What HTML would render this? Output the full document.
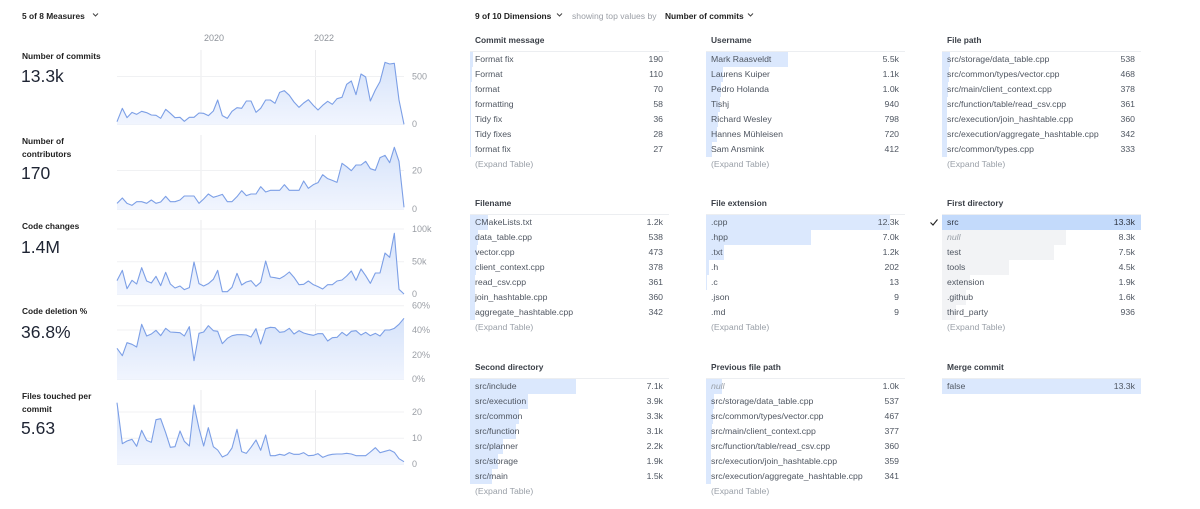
<!DOCTYPE html>
<html><head><meta charset="utf-8">
<style>
*{margin:0;padding:0;box-sizing:border-box}
html,body{width:1200px;height:509px;background:#fff;overflow:hidden;font-family:"Liberation Sans",Arial,sans-serif}
.abs{position:absolute;white-space:nowrap}
.hdr{font-weight:bold;font-size:8.4px;color:#222;line-height:12px}
.mlab{font-weight:bold;font-size:8.4px;color:#222;line-height:12.5px}
.mval{font-size:17.5px;color:#1e2433;line-height:20px}
.tbl{position:absolute;width:199px}
.tbl .ttl{position:absolute;left:5px;top:-17px;font-weight:bold;font-size:8.4px;color:#3a3f47;line-height:12px;white-space:nowrap}
.tbl .dv{position:absolute;left:0;top:0;width:199px;height:1px;background:#eceef1}
.tbl .rows{position:absolute;left:0;top:1px;width:199px}
.row{position:relative;height:15px;line-height:15px;font-size:8.7px;color:#4f5661;white-space:nowrap}
.row .bar{position:absolute;left:0;top:0;bottom:0;background:#dbe8fd}
.row .l{position:absolute;left:5px;top:0}
.row .r{position:absolute;right:6px;top:0}
.row.exp{color:#9aa0a8}
.nl{font-style:italic;color:#9aa0a8}
</style></head><body>

<!-- Left header -->
<div class="abs hdr" style="left:22px;top:9.5px">5 of 8 Measures</div>
<svg class="abs" style="left:92px;top:12px" width="8" height="6"><polyline points="1,1.5 3.5,4 6,1.5" fill="none" stroke="#444" stroke-width="1"/></svg>

<!-- Measure labels -->
<div class="abs mlab" style="left:22px;top:50px">Number of commits</div>
<div class="abs mval" style="left:21px;top:66px">13.3k</div>
<div class="abs mlab" style="left:22px;top:135px">Number of<br>contributors</div>
<div class="abs mval" style="left:21px;top:162.5px">170</div>
<div class="abs mlab" style="left:22px;top:220px">Code changes</div>
<div class="abs mval" style="left:21px;top:236.5px">1.4M</div>
<div class="abs mlab" style="left:22px;top:305px">Code deletion %</div>
<div class="abs mval" style="left:21px;top:322px">36.8%</div>
<div class="abs mlab" style="left:22px;top:390px">Files touched per<br>commit</div>
<div class="abs mval" style="left:21px;top:418px">5.63</div>

<!-- Charts -->
<svg class="abs" style="left:0;top:0" width="440" height="509" viewBox="0 0 440 509">
<defs>
<linearGradient id="g" x1="0" y1="0" x2="0" y2="1">
<stop offset="0" stop-color="#d6e3fa"/>
<stop offset="1" stop-color="#f1f5fe"/>
</linearGradient>
</defs>
<g font-family="Liberation Sans, Arial, sans-serif" font-size="9" fill="#8e939a">
<text x="204" y="41">2020</text>
<text x="314" y="41">2022</text>
</g>
<!-- vertical gridlines -->
<g stroke="#ebebed" stroke-width="1">
<line x1="201" y1="50" x2="201" y2="124"/><line x1="315.5" y1="50" x2="315.5" y2="124"/>
<line x1="201" y1="135" x2="201" y2="209"/><line x1="315.5" y1="135" x2="315.5" y2="209"/>
<line x1="201" y1="220" x2="201" y2="294"/><line x1="315.5" y1="220" x2="315.5" y2="294"/>
<line x1="201" y1="304" x2="201" y2="379"/><line x1="315.5" y1="304" x2="315.5" y2="379"/>
<line x1="201" y1="390" x2="201" y2="464"/><line x1="315.5" y1="390" x2="315.5" y2="464"/>
</g>
<!-- horizontal gridlines -->
<g stroke="#f0f1f3" stroke-width="1">
<line x1="117" y1="76.5" x2="404" y2="76.5"/>
<line x1="117" y1="170.5" x2="404" y2="170.5"/>
<line x1="117" y1="229" x2="404" y2="229"/>
<line x1="117" y1="261.7" x2="404" y2="261.7"/>
<line x1="117" y1="305.7" x2="404" y2="305.7"/>
<line x1="117" y1="330" x2="404" y2="330"/>
<line x1="117" y1="355" x2="404" y2="355"/>
<line x1="117" y1="412" x2="404" y2="412"/>
<line x1="117" y1="438.3" x2="404" y2="438.3"/>
</g>
<g stroke="#dfe6f4" stroke-width="1">
<line x1="117" y1="124.3" x2="404" y2="124.3"/>
<line x1="117" y1="209.3" x2="404" y2="209.3"/>
<line x1="117" y1="294.3" x2="404" y2="294.3"/>
<line x1="117" y1="379.3" x2="404" y2="379.3"/>
<line x1="117" y1="464.3" x2="404" y2="464.3"/>
</g>

<!-- Series 1 & 2 (zoom1 coords) -->
<g transform="scale(0.333333)">
<polygon fill="url(#g)" points="351,365 367,325 381,353 396,337 410,343 425,334 440,338 454,345 468,346 482,355 497,328 511,340 525,353 540,352 553,364 568,352 582,352 597,339 611,340 625,347 640,333 653,300 667,347 682,355 696,334 711,323 725,325 739,303 753,303 768,337 782,325 797,300 811,300 825,310 839,277 853,272 868,286 882,306 897,322 911,309 925,299 940,316 954,330 968,316 983,304 997,313 1011,296 1026,292 1040,253 1054,243 1068,284 1083,222 1097,231 1111,303 1126,270 1140,245 1155,187 1169,192 1183,190 1197,300 1212,373 1212,373 351,373"/>
<polyline fill="none" stroke="#7c9fe6" stroke-width="1.1" vector-effect="non-scaling-stroke" stroke-linejoin="round" points="351,365 367,325 381,353 396,337 410,343 425,334 440,338 454,345 468,346 482,355 497,328 511,340 525,353 540,352 553,364 568,352 582,352 597,339 611,340 625,347 640,333 653,300 667,347 682,355 696,334 711,323 725,325 739,303 753,303 768,337 782,325 797,300 811,300 825,310 839,277 853,272 868,286 882,306 897,322 911,309 925,299 940,316 954,330 968,316 983,304 997,313 1011,296 1026,292 1040,253 1054,243 1068,284 1083,222 1097,231 1111,303 1126,270 1140,245 1155,187 1169,192 1183,190 1197,300 1212,373"/>
<polygon fill="url(#g)" points="351,610 367,594 381,610 396,616 410,605 425,605 440,610 454,600 468,610 482,606 497,589 511,605 525,605 540,600 553,588 568,588 582,588 597,610 611,597 625,582 640,592 653,588 667,583 682,605 696,605 711,590 725,572 739,587 753,582 768,582 782,560 797,576 811,571 825,571 839,571 853,554 868,571 882,571 897,571 911,543 925,565 940,554 954,548 968,524 983,536 997,541 1011,547 1026,490 1040,500 1054,512 1068,495 1083,495 1097,484 1111,506 1126,511 1140,473 1155,466 1169,488 1183,442 1197,484 1212,622 1212,628 351,628"/>
<polyline fill="none" stroke="#7c9fe6" stroke-width="1.1" vector-effect="non-scaling-stroke" stroke-linejoin="round" points="351,610 367,594 381,610 396,616 410,605 425,605 440,610 454,600 468,610 482,606 497,589 511,605 525,605 540,600 553,588 568,588 582,588 597,610 611,597 625,582 640,592 653,588 667,583 682,605 696,605 711,590 725,572 739,587 753,582 768,582 782,560 797,576 811,571 825,571 839,571 853,554 868,571 882,571 897,571 911,543 925,565 940,554 954,548 968,524 983,536 997,541 1011,547 1026,490 1040,500 1054,512 1068,495 1083,495 1097,484 1111,506 1126,511 1140,473 1155,466 1169,488 1183,442 1197,484 1212,622"/>
</g>

<!-- Series 3 & 4 (zoom2 coords) -->
<g transform="translate(0,210) scale(0.333333)">
<polygon fill="url(#g)" points="351,212 367,181 381,236 396,211 410,222 425,173 440,213 454,219 468,199 482,227 497,187 511,222 525,234 540,228 553,239 568,233 582,156 597,221 611,228 625,221 640,208 653,181 667,245 682,245 696,232 711,190 725,225 739,216 753,212 768,229 782,217 797,153 811,201 825,203 839,206 853,198 868,186 882,202 897,224 911,223 925,213 940,224 954,230 968,237 983,224 997,224 1011,213 1026,210 1040,198 1054,183 1068,211 1083,177 1097,197 1111,220 1126,189 1140,189 1155,129 1169,142 1183,70 1197,238 1212,252 1212,253 351,253"/>
<polyline fill="none" stroke="#7c9fe6" stroke-width="1.1" vector-effect="non-scaling-stroke" stroke-linejoin="round" points="351,212 367,181 381,236 396,211 410,222 425,173 440,213 454,219 468,199 482,227 497,187 511,222 525,234 540,228 553,239 568,233 582,156 597,221 611,228 625,221 640,208 653,181 667,245 682,245 696,232 711,190 725,225 739,216 753,212 768,229 782,217 797,153 811,201 825,203 839,206 853,198 868,186 882,202 897,224 911,223 925,213 940,224 954,230 968,237 983,224 997,224 1011,213 1026,210 1040,198 1054,183 1068,211 1083,177 1097,197 1111,220 1126,189 1140,189 1155,129 1169,142 1183,70 1197,238 1212,252"/>
<polygon fill="url(#g)" points="351,415 367,437 381,398 396,403 410,411 425,343 440,378 454,372 468,361 482,377 497,355 511,366 525,367 540,368 553,378 568,350 582,452 597,370 611,366 625,347 640,362 653,364 667,401 682,385 696,377 711,374 725,374 739,375 753,381 768,356 782,402 797,356 811,352 825,353 839,367 853,365 868,355 882,372 897,362 911,369 925,373 940,376 954,371 968,371 983,393 997,383 1011,382 1026,367 1040,377 1054,364 1068,362 1083,375 1097,367 1111,377 1126,370 1140,378 1155,360 1169,360 1183,355 1197,343 1212,325 1212,508 351,508"/>
<polyline fill="none" stroke="#7c9fe6" stroke-width="1.1" vector-effect="non-scaling-stroke" stroke-linejoin="round" points="351,415 367,437 381,398 396,403 410,411 425,343 440,378 454,372 468,361 482,377 497,355 511,366 525,367 540,368 553,378 568,350 582,452 597,370 611,366 625,347 640,362 653,364 667,401 682,385 696,377 711,374 725,374 739,375 753,381 768,356 782,402 797,356 811,352 825,353 839,367 853,365 868,355 882,372 897,362 911,369 925,373 940,376 954,371 968,371 983,393 997,383 1011,382 1026,367 1040,377 1054,364 1068,362 1083,375 1097,367 1111,377 1126,370 1140,378 1155,360 1169,360 1183,355 1197,343 1212,325"/>
</g>

<!-- Series 5 (zoom3 coords) -->
<g transform="translate(0,370) scale(0.333333)">
<polygon fill="url(#g)" points="351,98 367,221 381,213 396,208 410,229 425,181 440,211 454,217 468,149 482,146 497,188 511,232 525,230 540,183 553,214 568,228 582,105 597,175 611,228 625,173 640,230 653,240 667,261 682,254 696,234 711,178 725,245 739,250 753,232 768,210 782,241 797,195 811,257 825,257 839,253 853,256 868,248 882,253 897,253 911,248 925,257 940,256 954,251 968,262 983,256 997,253 1011,252 1026,252 1040,250 1054,252 1068,257 1083,257 1097,257 1111,246 1126,233 1140,248 1155,244 1169,240 1183,247 1197,266 1212,275 1212,283 351,283"/>
<polyline fill="none" stroke="#7c9fe6" stroke-width="1.1" vector-effect="non-scaling-stroke" stroke-linejoin="round" points="351,98 367,221 381,213 396,208 410,229 425,181 440,211 454,217 468,149 482,146 497,188 511,232 525,230 540,183 553,214 568,228 582,105 597,175 611,228 625,173 640,230 653,240 667,261 682,254 696,234 711,178 725,245 739,250 753,232 768,210 782,241 797,195 811,257 825,257 839,253 853,256 868,248 882,253 897,253 911,248 925,257 940,256 954,251 968,262 983,256 997,253 1011,252 1026,252 1040,250 1054,252 1068,257 1083,257 1097,257 1111,246 1126,233 1140,248 1155,244 1169,240 1183,247 1197,266 1212,275"/>
</g>

<!-- y-axis labels -->
<g font-family="Liberation Sans, Arial, sans-serif" font-size="9" fill="#9a9ea5" dominant-baseline="middle">
<text x="412" y="77">500</text>
<text x="412" y="124.5">0</text>
<text x="412" y="171">20</text>
<text x="412" y="209.5">0</text>
<text x="412" y="229.5">100k</text>
<text x="412" y="262">50k</text>
<text x="412" y="294.5">0</text>
<text x="412" y="306">60%</text>
<text x="412" y="330.5">40%</text>
<text x="412" y="355.5">20%</text>
<text x="412" y="379.5">0%</text>
<text x="412" y="412.5">20</text>
<text x="412" y="438.5">10</text>
<text x="412" y="464.5">0</text>
</g>
</svg>

<!-- Right header -->
<div class="abs hdr" style="left:475px;top:9.5px">9 of 10 Dimensions</div>
<svg class="abs" style="left:556px;top:12px" width="8" height="6"><polyline points="1,1.5 3.5,4 6,1.5" fill="none" stroke="#444" stroke-width="1"/></svg>
<div class="abs" style="left:572px;top:9.5px;font-size:8.6px;line-height:12px;color:#9a9ea5">showing top values by</div>
<div class="abs hdr" style="left:665px;top:9.5px">Number of commits</div>
<svg class="abs" style="left:747px;top:12px" width="8" height="6"><polyline points="1,1.5 3.5,4 6,1.5" fill="none" stroke="#444" stroke-width="1"/></svg>

<!-- Section 1 -->
<div class="tbl" style="left:470px;top:51px">
<div class="ttl">Commit message</div><div class="dv"></div>
<div class="rows">
<div class="row"><div class="bar" style="width:2.8px"></div><span class="l">Format fix</span><span class="r">190</span></div>
<div class="row"><div class="bar" style="width:1.7px"></div><span class="l">Format</span><span class="r">110</span></div>
<div class="row"><div class="bar" style="width:1.1px"></div><span class="l">format</span><span class="r">70</span></div>
<div class="row"><div class="bar" style="width:0.9px"></div><span class="l">formatting</span><span class="r">58</span></div>
<div class="row"><div class="bar" style="width:0.6px"></div><span class="l">Tidy fix</span><span class="r">36</span></div>
<div class="row"><div class="bar" style="width:0.5px"></div><span class="l">Tidy fixes</span><span class="r">28</span></div>
<div class="row"><div class="bar" style="width:0.5px"></div><span class="l">format fix</span><span class="r">27</span></div>
<div class="row exp"><span class="l">(Expand Table)</span></div>
</div></div>

<div class="tbl" style="left:706px;top:51px">
<div class="ttl">Username</div><div class="dv"></div>
<div class="rows">
<div class="row"><div class="bar" style="width:82px"></div><span class="l">Mark Raasveldt</span><span class="r">5.5k</span></div>
<div class="row"><div class="bar" style="width:16.5px"></div><span class="l">Laurens Kuiper</span><span class="r">1.1k</span></div>
<div class="row"><div class="bar" style="width:15px"></div><span class="l">Pedro Holanda</span><span class="r">1.0k</span></div>
<div class="row"><div class="bar" style="width:14px"></div><span class="l">Tishj</span><span class="r">940</span></div>
<div class="row"><div class="bar" style="width:12px"></div><span class="l">Richard Wesley</span><span class="r">798</span></div>
<div class="row"><div class="bar" style="width:10.8px"></div><span class="l">Hannes Mühleisen</span><span class="r">720</span></div>
<div class="row"><div class="bar" style="width:6.2px"></div><span class="l">Sam Ansmink</span><span class="r">412</span></div>
<div class="row exp"><span class="l">(Expand Table)</span></div>
</div></div>

<div class="tbl" style="left:942px;top:51px">
<div class="ttl">File path</div><div class="dv"></div>
<div class="rows">
<div class="row"><div class="bar" style="width:8px"></div><span class="l">src/storage/data_table.cpp</span><span class="r">538</span></div>
<div class="row"><div class="bar" style="width:7px"></div><span class="l">src/common/types/vector.cpp</span><span class="r">468</span></div>
<div class="row"><div class="bar" style="width:5.7px"></div><span class="l">src/main/client_context.cpp</span><span class="r">378</span></div>
<div class="row"><div class="bar" style="width:5.4px"></div><span class="l">src/function/table/read_csv.cpp</span><span class="r">361</span></div>
<div class="row"><div class="bar" style="width:5.4px"></div><span class="l">src/execution/join_hashtable.cpp</span><span class="r">360</span></div>
<div class="row"><div class="bar" style="width:5.1px"></div><span class="l">src/execution/aggregate_hashtable.cpp</span><span class="r">342</span></div>
<div class="row"><div class="bar" style="width:5px"></div><span class="l">src/common/types.cpp</span><span class="r">333</span></div>
<div class="row exp"><span class="l">(Expand Table)</span></div>
</div></div>

<!-- Section 2 -->
<div class="tbl" style="left:470px;top:214px">
<div class="ttl">Filename</div><div class="dv"></div>
<div class="rows">
<div class="row"><div class="bar" style="width:17.5px"></div><span class="l">CMakeLists.txt</span><span class="r">1.2k</span></div>
<div class="row"><div class="bar" style="width:8px"></div><span class="l">data_table.cpp</span><span class="r">538</span></div>
<div class="row"><div class="bar" style="width:7px"></div><span class="l">vector.cpp</span><span class="r">473</span></div>
<div class="row"><div class="bar" style="width:5.7px"></div><span class="l">client_context.cpp</span><span class="r">378</span></div>
<div class="row"><div class="bar" style="width:5.4px"></div><span class="l">read_csv.cpp</span><span class="r">361</span></div>
<div class="row"><div class="bar" style="width:5.4px"></div><span class="l">join_hashtable.cpp</span><span class="r">360</span></div>
<div class="row"><div class="bar" style="width:5.1px"></div><span class="l">aggregate_hashtable.cpp</span><span class="r">342</span></div>
<div class="row exp"><span class="l">(Expand Table)</span></div>
</div></div>

<div class="tbl" style="left:706px;top:214px">
<div class="ttl">File extension</div><div class="dv"></div>
<div class="rows">
<div class="row"><div class="bar" style="width:183.5px"></div><span class="l">.cpp</span><span class="r">12.3k</span></div>
<div class="row"><div class="bar" style="width:105px"></div><span class="l">.hpp</span><span class="r">7.0k</span></div>
<div class="row"><div class="bar" style="width:18px"></div><span class="l">.txt</span><span class="r">1.2k</span></div>
<div class="row"><div class="bar" style="width:3px"></div><span class="l">.h</span><span class="r">202</span></div>
<div class="row"><div class="bar" style="width:0.3px"></div><span class="l">.c</span><span class="r">13</span></div>
<div class="row"><span class="l">.json</span><span class="r">9</span></div>
<div class="row"><span class="l">.md</span><span class="r">9</span></div>
<div class="row exp"><span class="l">(Expand Table)</span></div>
</div></div>

<svg class="abs" style="left:929px;top:218px" width="10" height="9"><polyline points="1.5,4.5 4,7 8.5,1.5" fill="none" stroke="#222" stroke-width="1.1"/></svg>
<div class="tbl" style="left:942px;top:214px">
<div class="ttl">First directory</div><div class="dv"></div>
<div class="rows">
<div class="row" style="color:#2d3340"><div class="bar" style="width:199px;background:#c3dafb"></div><span class="l">src</span><span class="r">13.3k</span></div>
<div class="row"><div class="bar" style="width:124px;background:#f2f3f5"></div><span class="l nl">null</span><span class="r">8.3k</span></div>
<div class="row"><div class="bar" style="width:112px;background:#f2f3f5"></div><span class="l">test</span><span class="r">7.5k</span></div>
<div class="row"><div class="bar" style="width:67px;background:#f2f3f5"></div><span class="l">tools</span><span class="r">4.5k</span></div>
<div class="row"><div class="bar" style="width:28.4px;background:#f2f3f5"></div><span class="l">extension</span><span class="r">1.9k</span></div>
<div class="row"><div class="bar" style="width:24px;background:#f2f3f5"></div><span class="l">.github</span><span class="r">1.6k</span></div>
<div class="row"><div class="bar" style="width:14px;background:#f2f3f5"></div><span class="l">third_party</span><span class="r">936</span></div>
<div class="row exp"><span class="l">(Expand Table)</span></div>
</div></div>

<!-- Section 3 -->
<div class="tbl" style="left:470px;top:377.5px">
<div class="ttl">Second directory</div><div class="dv"></div>
<div class="rows">
<div class="row"><div class="bar" style="width:106px"></div><span class="l">src/include</span><span class="r">7.1k</span></div>
<div class="row"><div class="bar" style="width:58.4px"></div><span class="l">src/execution</span><span class="r">3.9k</span></div>
<div class="row"><div class="bar" style="width:49.4px"></div><span class="l">src/common</span><span class="r">3.3k</span></div>
<div class="row"><div class="bar" style="width:46.4px"></div><span class="l">src/function</span><span class="r">3.1k</span></div>
<div class="row"><div class="bar" style="width:33px"></div><span class="l">src/planner</span><span class="r">2.2k</span></div>
<div class="row"><div class="bar" style="width:28.4px"></div><span class="l">src/storage</span><span class="r">1.9k</span></div>
<div class="row"><div class="bar" style="width:22.4px"></div><span class="l">src/main</span><span class="r">1.5k</span></div>
<div class="row exp"><span class="l">(Expand Table)</span></div>
</div></div>

<div class="tbl" style="left:706px;top:377.5px">
<div class="ttl">Previous file path</div><div class="dv"></div>
<div class="rows">
<div class="row"><div class="bar" style="width:15.5px"></div><span class="l nl">null</span><span class="r">1.0k</span></div>
<div class="row"><div class="bar" style="width:8px"></div><span class="l">src/storage/data_table.cpp</span><span class="r">537</span></div>
<div class="row"><div class="bar" style="width:7px"></div><span class="l">src/common/types/vector.cpp</span><span class="r">467</span></div>
<div class="row"><div class="bar" style="width:5.6px"></div><span class="l">src/main/client_context.cpp</span><span class="r">377</span></div>
<div class="row"><div class="bar" style="width:5.4px"></div><span class="l">src/function/table/read_csv.cpp</span><span class="r">360</span></div>
<div class="row"><div class="bar" style="width:5.4px"></div><span class="l">src/execution/join_hashtable.cpp</span><span class="r">359</span></div>
<div class="row"><div class="bar" style="width:5.1px"></div><span class="l">src/execution/aggregate_hashtable.cpp</span><span class="r">341</span></div>
<div class="row exp"><span class="l">(Expand Table)</span></div>
</div></div>

<div class="tbl" style="left:942px;top:377.5px">
<div class="ttl">Merge commit</div><div class="dv"></div>
<div class="rows">
<div class="row"><div class="bar" style="width:199px"></div><span class="l">false</span><span class="r">13.3k</span></div>
</div></div>

</body></html>
